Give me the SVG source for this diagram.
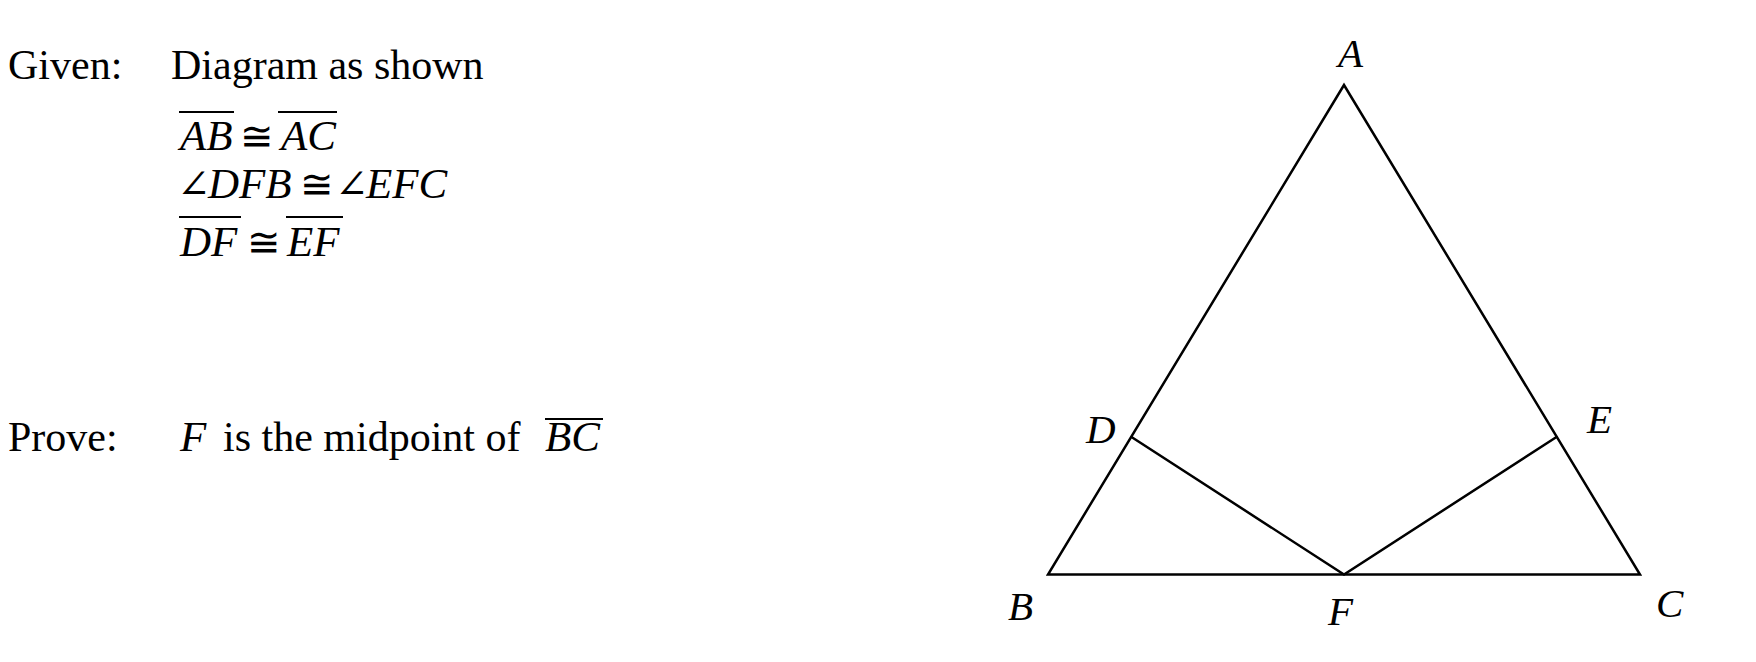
<svg xmlns="http://www.w3.org/2000/svg" width="1756" height="662" viewBox="0 0 1756 662">
<style>
.t{font-family:"Liberation Serif","DejaVu Serif",serif;font-size:42px;fill:#000}
.m{font-family:"Liberation Serif","DejaVu Serif",serif;font-size:43px;font-style:italic;fill:#000}
.s{font-family:"Liberation Serif","DejaVu Serif",serif;font-size:40px;font-style:normal}
.lbl{font-family:"Liberation Serif","DejaVu Serif",serif;font-size:41px;font-style:italic;fill:#000}
.ol{stroke:#000;stroke-width:2}
.seg{stroke:#000;stroke-width:2.5;fill:none;stroke-linejoin:miter;stroke-linecap:round}
</style>
<rect width="1756" height="662" fill="#fff"/>
<g id="given">
<text class="t" x="8" y="79">Given:</text>
<text class="t" x="171" y="79">Diagram as shown</text>
<text class="m" y="150"><tspan x="180">AB</tspan><tspan class="s" x="240">≅</tspan><tspan x="281">AC</tspan></text>
<line class="ol" x1="179" y1="112" x2="234" y2="112"/>
<line class="ol" x1="278" y1="112" x2="337" y2="112"/>
<text class="m" y="198"><tspan class="s" x="177">∠</tspan><tspan x="208">DFB</tspan><tspan class="s" x="300">≅</tspan><tspan class="s" x="335">∠</tspan><tspan x="366">EFC</tspan></text>
<text class="m" y="256"><tspan x="180">DF</tspan><tspan class="s" x="247">≅</tspan><tspan x="287">EF</tspan></text>
<line class="ol" x1="179" y1="217" x2="241" y2="217"/>
<line class="ol" x1="286" y1="217" x2="343" y2="217"/>
</g>
<g id="prove">
<text class="t" x="8" y="451">Prove:</text>
<text class="m" x="180" y="451">F</text>
<text class="t" x="223" y="451">is the midpoint of</text>
<text class="m" x="545" y="451">BC</text>
<line class="ol" x1="545" y1="419" x2="603" y2="419"/>
</g>
<g id="connectors">
<polygon class="seg" points="1344,85 1048,574.5 1640,574.5"/>
<polyline class="seg" points="1131.5,437 1344,574.5 1556.5,437"/>
</g>
<g id="labels">
<text class="lbl" x="1338" y="67">A</text>
<text class="lbl" x="1086" y="443">D</text>
<text class="lbl" x="1587" y="433">E</text>
<text class="lbl" x="1008" y="620">B</text>
<text class="lbl" x="1328" y="625">F</text>
<text class="lbl" x="1656" y="617">C</text>
</g>
</svg>
